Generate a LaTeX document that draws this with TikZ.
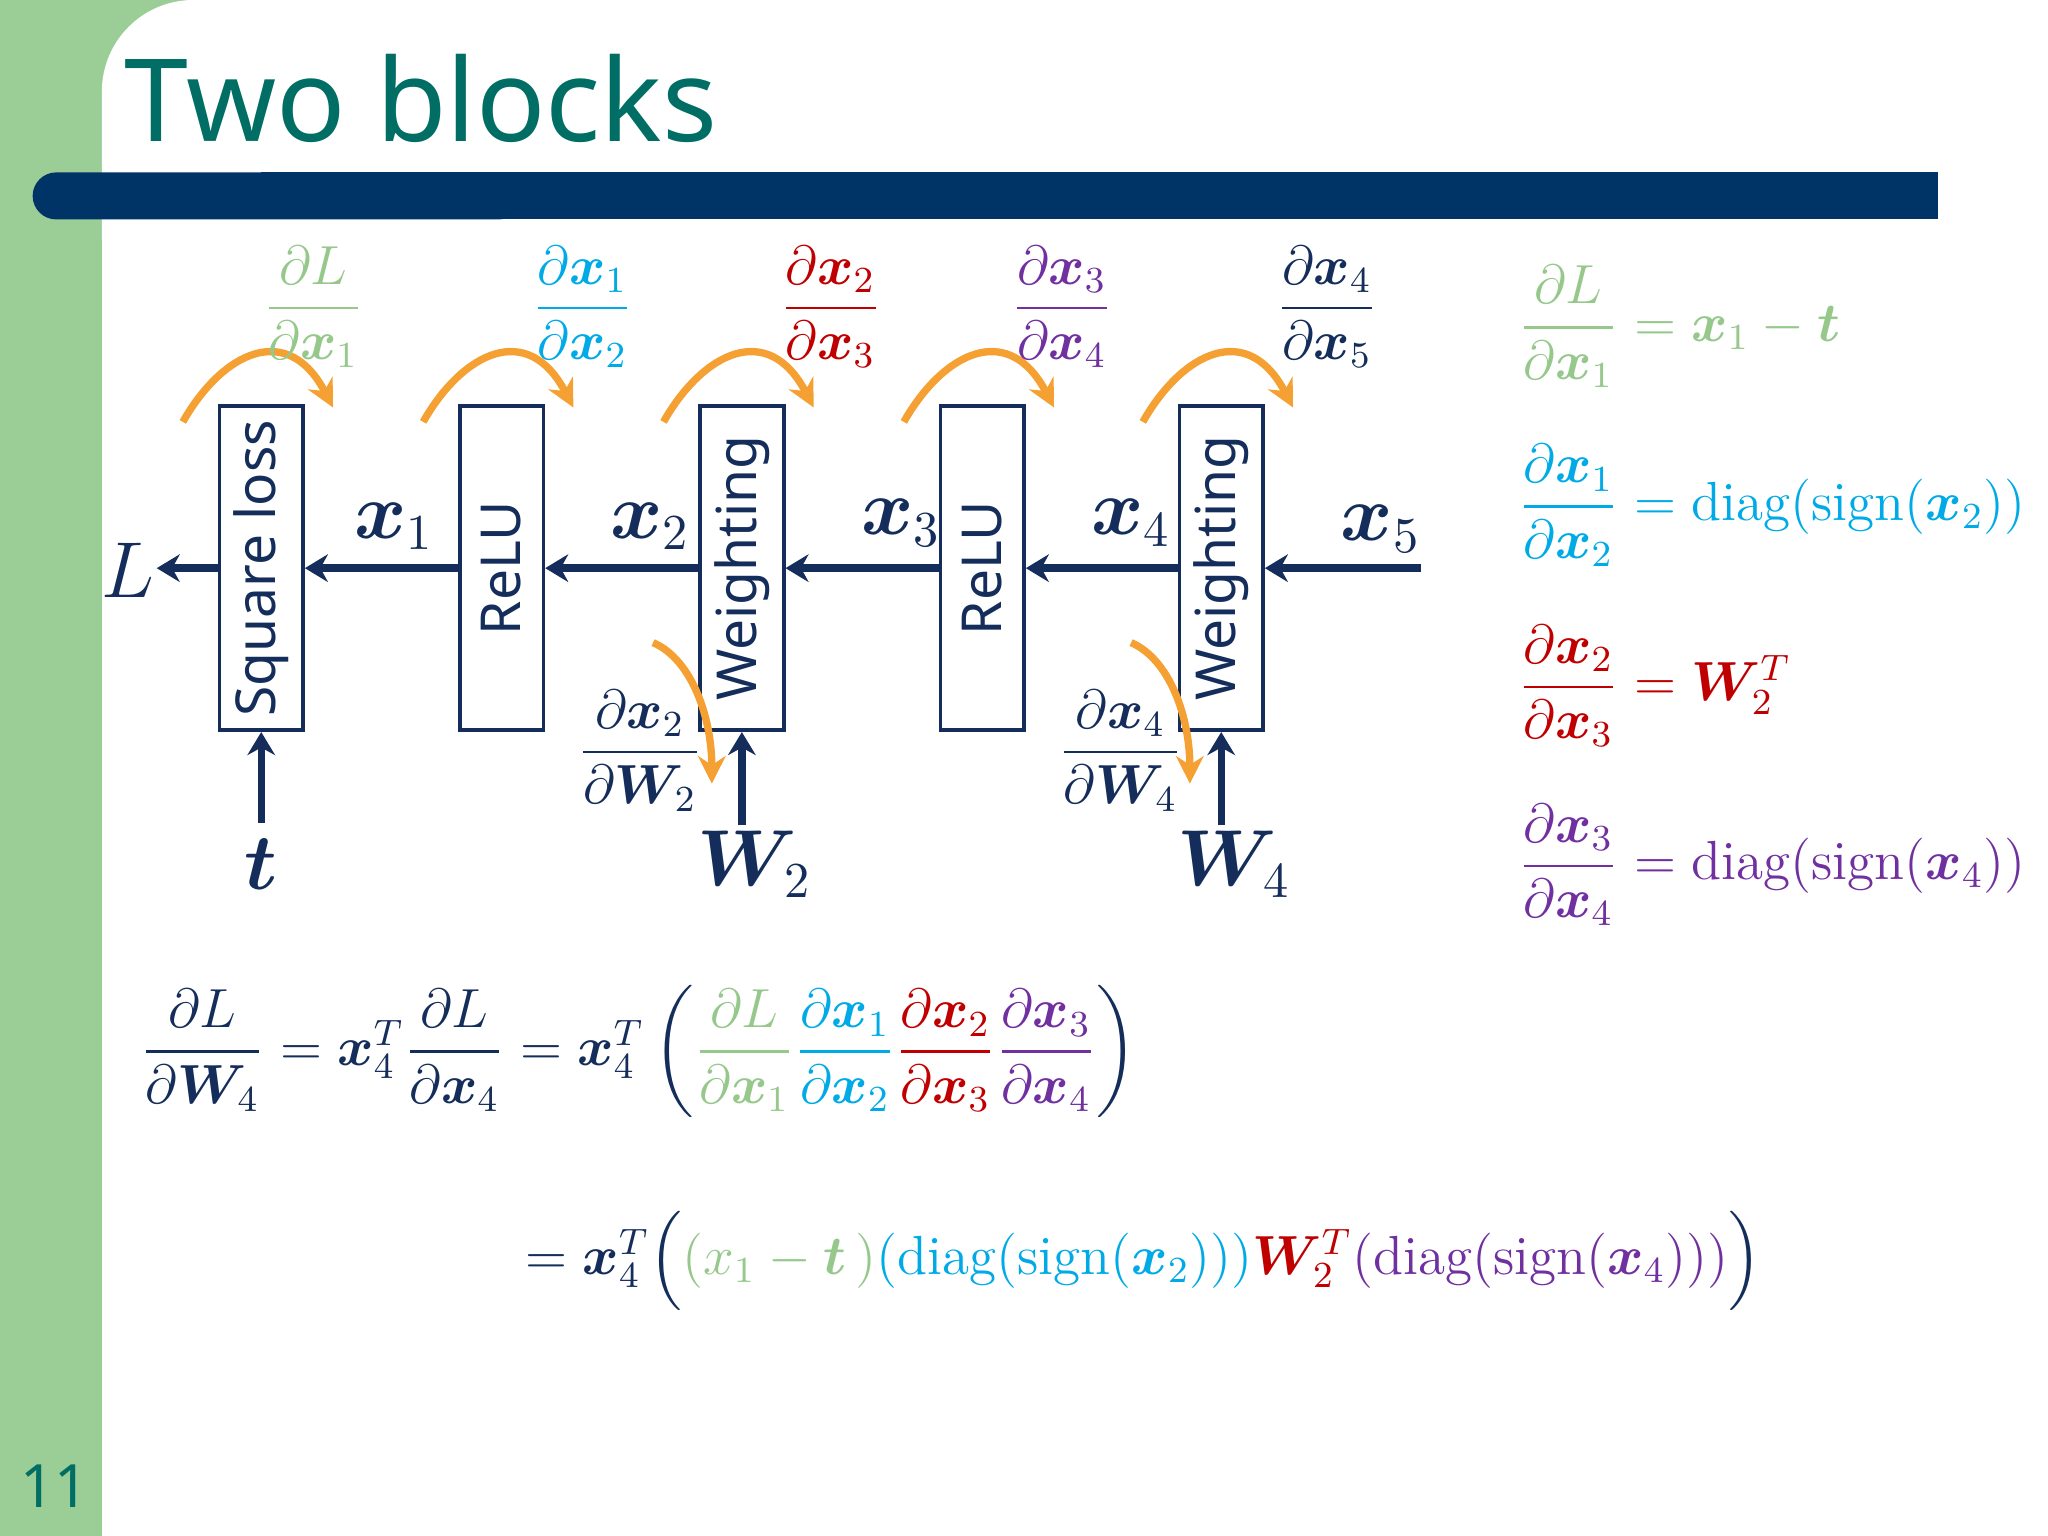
\documentclass[tikz,border=0pt]{standalone}
\usepackage{amsmath,bm}
\usepackage{fontspec}
\setsansfont{Noto Sans}
\usetikzlibrary{arrows.meta}
\definecolor{gbar}{RGB}{155,205,150}
\definecolor{nbar}{RGB}{0,51,102}
\definecolor{ttl}{RGB}{0,110,100}
\definecolor{nv}{RGB}{20,45,90}
\definecolor{cg}{RGB}{150,200,140}
\definecolor{cc}{RGB}{0,170,230}
\definecolor{cr}{RGB}{192,0,0}
\definecolor{cp}{RGB}{112,48,160}
\definecolor{org}{RGB}{245,160,50}
\newcommand{\bx}{\bm{x}}
\newcommand{\bW}{\bm{W}}
\begin{document}
\begin{tikzpicture}[x=0.01cm,y=-0.01cm,
  blk/.style={draw=nv,line width=0.8pt,minimum width=0.64cm,minimum height=2.48cm,inner sep=0pt},
  blkt/.style={rotate=90,font=\sffamily\fontsize{12}{14}\selectfont,text=nv},
  ar/.style={nv,line width=1.6pt,-{Stealth[length=5pt,width=6pt]}},
  oa/.style={org,line width=1.6pt,-{Stealth[length=6pt,width=6pt]}},
  m/.style={font=\fontsize{12}{14}\selectfont,text=nv},
  mb/.style={font=\fontsize{16}{18}\selectfont,text=nv}]
\useasboundingbox (0,0) rectangle (1568,1176);
\fill[gbar] (0,0) rectangle (160,130);
\fill[gbar] (0,0) rectangle (78,1176);
\fill[white,rounded corners=0.7cm] (78,0) rectangle (400,250);
\fill[nbar,rounded corners=0.18cm] (25,132) rectangle (400,168);
\fill[nbar] (200,132) rectangle (1484,168);
\node[anchor=base west,text=ttl,font=\sffamily\bfseries\fontsize{25}{30}\selectfont,inner sep=0] (title) at (95,108) {Two blocks};
\node[text=ttl,font=\sffamily\fontsize{13}{15}\selectfont] (pn) at (42,1138) {11};
% blocks
\node[blk] (b1) at (200,435) {}; \node[blkt] at (b1) {Square loss};
\node[blk] (b2) at (384,435) {}; \node[blkt] at (b2) {ReLU};
\node[blk] (b3) at (568,435) {}; \node[blkt] at (b3) {Weighting};
\node[blk] (b4) at (752,435) {}; \node[blkt] at (b4) {ReLU};
\node[blk] (b5) at (935,435) {}; \node[blkt] at (b5) {Weighting};
\coordinate (in5) at (1088,435);
\coordinate (outL) at (120,435);
\draw[ar] (in5) -- (b5.east);
\draw[ar] (b5.west) -- (b4.east);
\draw[ar] (b4.west) -- (b3.east);
\draw[ar] (b3.west) -- (b2.east);
\draw[ar] (b2.west) -- (b1.east);
\draw[ar] (b1.west) -- (outL);
\node[mb] (x5) at (1057,405) {$\bx_5$};
\node[mb] (x4) at (866,400) {$\bx_4$};
\node[mb] (x3) at (690,400) {$\bx_3$};
\node[mb] (x2) at (498,403) {$\bx_2$};
\node[mb] (x1) at (302,403) {$\bx_1$};
\node[mb] (L) at (98,437) {$L$};
\node[mb] (t) at (200,662) {$\bm{t}$};
\node[mb] (W2) at (578,662) {$\bW_2$};
\node[mb] (W4) at (945,662) {$\bW_4$};
\draw[ar] (t.north) -- (b1.south);
\draw[ar] (568,632) -- (b3.south);
\draw[ar] (935,632) -- (b5.south);
% orange arrows
\foreach \c in {200,384,568,752,935}{
  \draw[oa] (\c-60,323) .. controls (\c-30,270) and (\c+20,245) .. (\c+55,312);}
\draw[oa] (500,492) .. controls (530,505) and (545,550) .. (545,600);
\draw[oa] (866,492) .. controls (896,505) and (911,550) .. (911,600);
% top fractions
\node[m,text=cg] (f1) at (240,235) {$\dfrac{\partial L}{\partial \bx_1}$};
\node[m,text=cc] (f2) at (446,235) {$\dfrac{\partial \bx_1}{\partial \bx_2}$};
\node[m,text=cr] (f3) at (636,235) {$\dfrac{\partial \bx_2}{\partial \bx_3}$};
\node[m,text=cp] (f4) at (813,235) {$\dfrac{\partial \bx_3}{\partial \bx_4}$};
\node[m] (f5) at (1016,235) {$\dfrac{\partial \bx_4}{\partial \bx_5}$};
\node[m] (g2) at (490,575) {$\dfrac{\partial \bx_2}{\partial \bW_2}$};
\node[m] (g4) at (858,575) {$\dfrac{\partial \bx_4}{\partial \bW_4}$};
% right equations
\node[m,text=cg,anchor=west] (e1) at (1150,250) {$\dfrac{\partial L}{\partial \bx_1}=\bx_1-\bm{t}$};
\node[m,text=cc,anchor=west] (e2) at (1150,387) {$\dfrac{\partial \bx_1}{\partial \bx_2}=\mathrm{diag}(\mathrm{sign}(\bx_2))$};
\node[m,text=cr,anchor=west] (e3) at (1150,525) {$\dfrac{\partial \bx_2}{\partial \bx_3}=\bW_2^T$};
\node[m,text=cp,anchor=west] (e4) at (1150,662) {$\dfrac{\partial \bx_3}{\partial \bx_4}=\mathrm{diag}(\mathrm{sign}(\bx_4))$};
% bottom equations
\node[m,anchor=west] (eq1) at (95,805) {$\dfrac{\partial L}{\partial \bW_4}=\bx_4^T\dfrac{\partial L}{\partial \bx_4}=\bx_4^T\left(\textcolor{cg}{\dfrac{\partial L}{\partial \bx_1}}\textcolor{cc}{\dfrac{\partial \bx_1}{\partial \bx_2}}\textcolor{cr}{\dfrac{\partial \bx_2}{\partial \bx_3}}\textcolor{cp}{\dfrac{\partial \bx_3}{\partial \bx_4}}\right)$};
\node[m,anchor=west] (eq2) at (390,965) {$=\bx_4^T\Bigl(\textcolor{cg}{(x_1-\bm{t}\,)}\textcolor{cc}{(\mathrm{diag}(\mathrm{sign}(\bx_2)))}\textcolor{cr}{\bW_2^T}\textcolor{cp}{(\mathrm{diag}(\mathrm{sign}(\bx_4)))}\Bigr)$};
\end{tikzpicture}
\end{document}
